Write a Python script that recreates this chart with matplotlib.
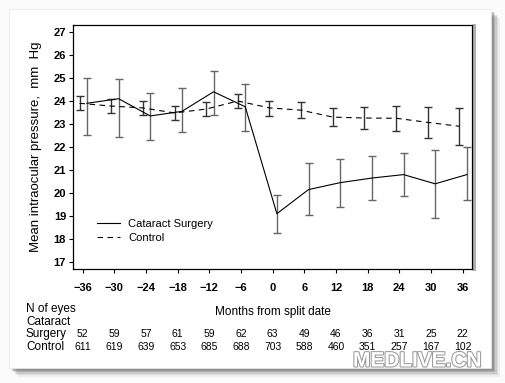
import matplotlib.pyplot as plt
import matplotlib.patheffects as pe
from matplotlib.patches import Rectangle
from matplotlib.lines import Line2D

# Data
months = [-36, -30, -24, -18, -12, -6, 0, 6, 12, 18, 24, 30, 36]

cataract_mean = [23.9, 24.1, 23.35, 23.55, 24.4, 23.75, 19.1, 20.15, 20.45, 20.65, 20.8, 20.4, 20.8]
cataract_lo = [22.5, 22.45, 22.3, 22.65, 23.4, 22.7, 18.25, 19.05, 19.4, 19.7, 19.85, 18.9, 19.7]
cataract_hi = [25.0, 24.95, 24.35, 24.55, 25.3, 24.75, 19.9, 21.3, 21.5, 21.6, 21.75, 21.85, 22.0]

control_mean = [23.9, 23.78, 23.7, 23.48, 23.65, 24.0, 23.7, 23.6, 23.3, 23.26, 23.25, 23.07, 22.9]
control_lo = [23.6, 23.46, 23.39, 23.19, 23.35, 23.68, 23.36, 23.25, 22.9, 22.8, 22.71, 22.39, 22.1]
control_hi = [24.2, 24.1, 24.0, 23.77, 23.95, 24.3, 24.0, 23.96, 23.7, 23.72, 23.77, 23.74, 23.7]

n_cataract = [52, 59, 57, 61, 59, 62, 63, 49, 46, 36, 31, 25, 22]
n_control = [611, 619, 639, 653, 685, 688, 703, 588, 460, 351, 257, 167, 102]

plt.rcParams['font.family'] = ['Liberation Sans', 'DejaVu Sans']

W, H = 506, 383
fig = plt.figure(figsize=(W / 100, H / 100), dpi=100)
fig.patch.set_facecolor('#fbfbfb')

# card with a soft shadow
for i, a in enumerate([0.05, 0.07, 0.09, 0.12, 0.16]):
    off = 9 - i * 1.6
    fig.patches.append(Rectangle(((9 + off) / W, (H - 368 - off) / H), 482 / W, 359 / H,
                                 transform=fig.transFigure, facecolor='black',
                                 alpha=a, edgecolor='none', zorder=0))
fig.patches.append(Rectangle((9 / W, (H - 368) / H), 482 / W, 359 / H,
                             transform=fig.transFigure, facecolor='white',
                             edgecolor='#e6e6e6', lw=0.5, zorder=1))

ax = fig.add_axes([73 / W, (H - 269) / H, 399 / W, 244 / H])
ax.set_zorder(2)

x_cat = [m + 0.8 for m in months]
x_con = [m - 0.6 for m in months]

ax.errorbar(x_cat, cataract_mean,
            yerr=[[m - l for m, l in zip(cataract_mean, cataract_lo)],
                  [h - m for m, h in zip(cataract_mean, cataract_hi)]],
            fmt='none', ecolor='#666666', elinewidth=1.0, capsize=2.6, capthick=1.0)
ax.errorbar(x_con, control_mean,
            yerr=[[m - l for m, l in zip(control_mean, control_lo)],
                  [h - m for m, h in zip(control_mean, control_hi)]],
            fmt='none', ecolor='#333333', elinewidth=1.0, capsize=2.6, capthick=1.0)

ax.plot(x_cat, cataract_mean, color='black', lw=0.8, label='Cataract Surgery')
ax.plot(x_con, control_mean, color='black', lw=0.8, linestyle=(0, (5, 4)), label='Control')

ax.set_xlim(-37.84, 37.78)
ax.set_ylim(16.696, 27.304)
ax.set_xticks(months)
ax.set_xticklabels([f'\u2212{abs(m)}' if m < 0 else str(m) for m in months])
ax.set_yticks(range(17, 28))

ax.tick_params(direction='out', length=3, width=0.8, labelsize=8, pad=7, axis='x')
ax.tick_params(direction='out', length=3, width=0.8, labelsize=8, pad=2, axis='y')
for lab in ax.get_xticklabels() + ax.get_yticklabels():
    lab.set_fontweight('bold')

for s in ax.spines.values():
    s.set_linewidth(0.9)
    s.set_color('black')
# grey shade on the right edge of the frame
ax.add_line(Line2D([1.006, 1.006], [0, 1.0], transform=ax.transAxes, color='#b0b0b0',
                   lw=2.2, clip_on=False))

ax.set_ylabel('Mean intraocular pressure,  mm  Hg', fontsize=9.5, labelpad=8)

leg = ax.legend(loc='upper left', bbox_to_anchor=(0.06, 0.205), frameon=False,
                fontsize=8, handlelength=2.1, handletextpad=0.7, labelspacing=0.35,
                borderpad=0, borderaxespad=0)

# table under the chart
def fy(y):
    return (H - y) / H

fig.text(273 / W, fy(312), 'Months from split date', ha='center', va='center', fontsize=8.5)
fig.text(26 / W, fy(309), 'N of eyes', ha='left', va='center', fontsize=8.5)
fig.text(26 / W, fy(322), 'Cataract', ha='left', va='center', fontsize=8.5)
fig.text(26 / W, fy(334), 'Surgery', ha='left', va='center', fontsize=8.5)
fig.text(26 / W, fy(347), 'Control', ha='left', va='center', fontsize=8.5)

for m, nc, nk in zip(months, n_cataract, n_control):
    xf = fig.transFigure.inverted().transform(ax.transData.transform((m, 0)))[0]
    fig.text(xf, fy(334), str(nc), ha='center', va='center', fontsize=7.5)
    fig.text(xf, fy(347), str(nk), ha='center', va='center', fontsize=7.5)

# watermark
fig.text(353 / W, fy(361), 'MEDLIVE.CN', ha='left', va='center', fontsize=15,
         fontweight='bold', color='white', zorder=5,
         path_effects=[pe.withStroke(linewidth=1.5, foreground='#9a9a9a')])

fig.savefig('out.png', dpi=100)
